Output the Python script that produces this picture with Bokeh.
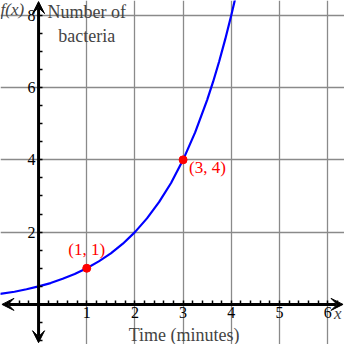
from bokeh.plotting import figure
from bokeh.models import Range1d, LinearAxis, FixedTicker, Grid, Arrow, VeeHead, Label, ColumnDataSource
from bokeh.embed import file_html
from bokeh.resources import INLINE

# ---- data ----
curve_x = [-0.8, -0.5, -0.25, 0.0, 0.25, 0.5, 0.75, 1.0, 1.25, 1.5, 1.75, 2.0,
           2.25, 2.5, 2.75, 3.0, 3.25, 3.5, 3.625, 3.75, 3.875, 4.0, 4.1, 4.2]
curve_y = [0.29, 0.35, 0.42, 0.5, 0.59, 0.71, 0.84, 1.0, 1.19, 1.41, 1.68, 2.0,
           2.38, 2.83, 3.36, 4.0, 4.76, 5.66, 6.17, 6.73, 7.34, 8.0, 8.57, 9.19]
point_x = [1, 3]
point_y = [1, 4]
point_labels = ["(1, 1)", "(3, 4)"]
x_tick_values = [1, 2, 3, 4, 5, 6]
y_tick_values = [2, 4, 6, 8]
x_minor_values = [-0.6, -0.4, -0.2, 0.2, 0.4, 0.6, 0.8, 1.2, 1.4, 1.6, 1.8, 2.2, 2.4, 2.6, 2.8,
                  3.2, 3.4, 3.6, 3.8, 4.2, 4.4, 4.6, 4.8, 5.2, 5.4, 5.6, 5.8, 6.2]
y_minor_values = [-1, -0.5, 0.5, 1, 1.5, 2.5, 3, 3.5, 4.5, 5, 5.5, 6.5, 7, 7.5]
x_title = "Time (minutes)"
y_title_lines = ["Number of", "bacteria"]

X_LO, X_HI = -0.79, 6.35
Y_LO, Y_HI = -1.11, 8.41
SERIF = "Liberation Serif"

p = figure(width=344, height=344, x_range=Range1d(X_LO, X_HI), y_range=Range1d(Y_LO, Y_HI),
           output_backend="svg", toolbar_location=None, x_axis_type=None, y_axis_type=None,
           min_border=0, outline_line_color=None)
p.background_fill_color = "white"

p.add_layout(Grid(dimension=0, ticker=FixedTicker(ticks=x_tick_values),
                  grid_line_color="#8a8a8a", grid_line_width=1.3))
p.add_layout(Grid(dimension=1, ticker=FixedTicker(ticks=y_tick_values),
                  grid_line_color="#8a8a8a", grid_line_width=1.3))

axis_style = dict(axis_line_color=None, major_tick_in=4, major_tick_out=0,
                  minor_tick_in=4, minor_tick_out=0,
                  major_tick_line_width=1.5, minor_tick_line_width=1.5,
                  major_tick_line_color="black", minor_tick_line_color="black",
                  major_label_text_font=SERIF, major_label_text_font_size="16px",
                  major_label_text_color="black")
xaxis = LinearAxis(ticker=FixedTicker(ticks=x_tick_values, minor_ticks=x_minor_values),
                   fixed_location=0, major_label_standoff=3, **axis_style)
yaxis = LinearAxis(ticker=FixedTicker(ticks=y_tick_values, minor_ticks=y_minor_values),
                   fixed_location=0, major_label_standoff=3, **axis_style)
p.add_layout(xaxis, "below")
p.add_layout(yaxis, "left")

# axis lines with arrow heads
p.add_layout(Arrow(x_start=X_LO + 0.03, y_start=0, x_end=X_HI - 0.03, y_end=0,
                   line_width=3, line_color="black",
                   start=VeeHead(size=12, fill_color="black", line_color="black", line_width=1),
                   end=VeeHead(size=12, fill_color="black", line_color="black", line_width=1)))
p.add_layout(Arrow(x_start=0, y_start=Y_LO + 0.05, x_end=0, y_end=Y_HI - 0.03,
                   line_width=3, line_color="black",
                   start=VeeHead(size=12, fill_color="black", line_color="black", line_width=1),
                   end=VeeHead(size=12, fill_color="black", line_color="black", line_width=1)))

p.line(curve_x, curve_y, line_color="#0000ff", line_width=2.2)

src = ColumnDataSource(dict(x=point_x, y=point_y, label=point_labels))
p.scatter("x", "y", source=src, size=8, fill_color="#ff0000", line_color="#ff0000")

p.add_layout(Label(x=point_x[0], y=point_y[0], text=point_labels[0], text_align="center",
                   text_baseline="middle", y_offset=19, text_font=SERIF,
                   text_font_size="17px", text_color="#ff0000"))
p.add_layout(Label(x=point_x[1], y=point_y[1], text=point_labels[1], text_align="left",
                   text_baseline="middle", x_offset=6, y_offset=-8, text_font=SERIF,
                   text_font_size="17px", text_color="#ff0000"))

p.add_layout(Label(x=X_LO, y=8.17, text="f(x)", text_align="left", text_baseline="middle",
                   text_font=SERIF, text_font_style="italic", text_font_size="17px"))
p.add_layout(Label(x=1.0, y=8.1, text=y_title_lines[0], text_align="center",
                   text_baseline="middle", text_font=SERIF, text_font_size="18px"))
p.add_layout(Label(x=1.0, y=7.43, text=y_title_lines[1], text_align="center",
                   text_baseline="middle", text_font=SERIF, text_font_size="18px"))
p.add_layout(Label(x=3.02, y=-0.85, text=x_title, text_align="center",
                   text_baseline="middle", text_font=SERIF, text_font_size="18px"))
p.add_layout(Label(x=6.13, y=-0.26, text="x", text_align="left",
                   text_baseline="middle", text_font=SERIF, text_font_style="italic",
                   text_font_size="17px"))

open("out.html", "w").write(file_html(p, INLINE))
